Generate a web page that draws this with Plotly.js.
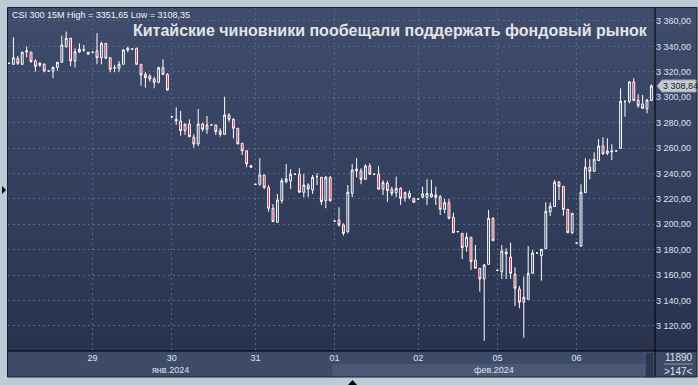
<!DOCTYPE html>
<html>
<head>
<meta charset="utf-8">
<script src="https://cdn.plot.ly/plotly-3.0.1.min.js"></script>
<style>
  html, body { margin: 0; padding: 0; background: #bfcad7; }
  #wrap { position: relative; width: 698px; height: 385px; overflow: hidden; }
  #bg { position: absolute; left: 8px; top: 8px; width: 689px; height: 343px;
        background: linear-gradient(#3f4c6c, #29334f); }
  #chart { position: absolute; left: 0; top: 0; width: 698px; height: 385px; }
</style>
</head>
<body>
<div id="wrap"><div id="bg"></div><div id="chart"></div></div>
<script>
// CSI 300, 15-minute bars, 26 Jan - 6 Feb 2024
const open = [
  3326.7, 3325.9, 3330.6, 3325.9, 3335.6, 3335.4, 3328.5, 3325.1, 3325.9, 3320.6,
  3320.6, 3323.5, 3327.5, 3339.8, 3346.4, 3328.5, 3335.6, 3337.0, 3335.4,
  3335.4, 3336.4, 3331.1, 3342.4, 3331.1, 3323.2, 3322.8, 3325.9, 3337.2, 3337.9,
  3338.5, 3325.9, 3318.0, 3316.7, 3314.3, 3311.7, 3323.2, 3318.0,
  3284.5, 3282.6, 3281.3, 3273.7, 3278.9, 3268.5, 3263.2, 3278.9, 3274.8, 3278.2,
  3278.2, 3273.4, 3270.8, 3286.0, 3282.6, 3275.6, 3263.7, 3257.9, 3246.1,
  3231.5, 3231.5, 3238.8, 3229.1, 3212.6, 3201.6, 3218.6, 3233.5, 3234.3, 3239.4,
  3239.4, 3225.2, 3230.9, 3227.0, 3237.5, 3237.0, 3218.6, 3236.7,
  3202.6, 3203.4, 3199.5, 3194.2, 3224.4, 3243.5, 3242.0, 3235.4, 3245.9, 3239.4,
  3239.4, 3227.6, 3232.3, 3227.6, 3224.9, 3228.3, 3220.5, 3224.4, 3220.5,
  3219.9, 3221.3, 3221.3, 3221.5, 3223.1, 3221.7, 3211.8, 3217.0, 3205.5, 3194.2,
  3192.9, 3182.4, 3189.8, 3171.9, 3165.4, 3157.0, 3168.5, 3204.7,
  3163.8, 3162.7, 3178.2, 3174.1, 3160.7, 3149.1, 3138.7, 3141.0, 3161.5, 3177.4,
  3175.3, 3180.8, 3209.9, 3214.0, 3233.1, 3229.9, 3211.8, 3193.4,
  3185.3, 3182.9, 3224.9, 3244.9, 3241.7, 3250.1, 3261.6, 3255.9, 3257.0, 3257.7,
  3259.8, 3296.8, 3296.8, 3312.0, 3297.6, 3294.7, 3291.0, 3297.3
];
const high = [
  3326.7, 3347.2, 3332.4, 3335.8, 3339.8, 3335.8, 3329.8, 3327.5, 3326.7, 3320.6,
  3324.0, 3327.5, 3348.5, 3351.65, 3346.4, 3338.5, 3342.4, 3341.1, 3335.4,
  3335.4, 3350.5, 3343.7, 3342.4, 3331.1, 3325.4, 3328.5, 3337.9, 3339.8, 3337.9,
  3339.0, 3325.9, 3319.6, 3318.0, 3316.2, 3324.0, 3329.8, 3318.8,
  3284.5, 3292.1, 3289.2, 3278.9, 3282.6, 3270.8, 3290.7, 3279.9, 3285.2, 3278.2,
  3278.2, 3275.6, 3300.4, 3287.4, 3283.4, 3275.6, 3263.7, 3257.9, 3246.1,
  3231.5, 3252.0, 3238.8, 3230.9, 3216.0, 3223.9, 3236.2, 3247.5, 3243.3, 3239.4,
  3244.1, 3239.6, 3232.3, 3238.8, 3240.1, 3237.0, 3238.0, 3238.0,
  3202.6, 3213.4, 3200.8, 3230.9, 3247.5, 3252.0, 3244.1, 3247.2, 3248.0, 3239.4,
  3245.9, 3234.9, 3234.3, 3229.6, 3237.5, 3229.1, 3225.7, 3226.5, 3220.5,
  3219.9, 3229.6, 3235.4, 3235.0, 3229.6, 3223.1, 3219.9, 3219.9, 3209.2, 3194.2,
  3192.9, 3193.4, 3189.8, 3183.7, 3165.4, 3168.8, 3211.3, 3205.5,
  3163.8, 3183.7, 3181.1, 3185.5, 3166.2, 3151.5, 3158.8, 3182.9, 3179.8, 3177.4,
  3180.3, 3217.3, 3217.3, 3234.9, 3234.1, 3229.9, 3211.8, 3208.7,
  3185.3, 3231.5, 3252.0, 3251.2, 3256.7, 3267.1, 3268.5, 3267.7, 3263.0, 3257.7,
  3307.0, 3297.0, 3312.5, 3314.9, 3302.3, 3301.8, 3298.6, 3310.2
];
const low = [
  3326.7, 3325.4, 3325.4, 3325.4, 3331.4, 3327.2, 3320.1, 3324.0, 3319.6, 3320.6,
  3314.9, 3320.9, 3327.5, 3339.0, 3324.5, 3323.2, 3334.8, 3335.6, 3333.8,
  3335.4, 3325.9, 3325.9, 3330.6, 3319.6, 3319.6, 3320.1, 3325.9, 3335.4, 3337.9,
  3325.9, 3309.1, 3307.5, 3312.2, 3307.0, 3310.9, 3317.5, 3305.1,
  3284.5, 3278.2, 3269.7, 3270.3, 3268.9, 3260.3, 3261.6, 3272.9, 3271.1, 3278.2,
  3270.3, 3268.9, 3270.8, 3280.7, 3267.7, 3263.2, 3254.5, 3244.9, 3244.9,
  3231.5, 3230.4, 3227.6, 3209.9, 3202.1, 3201.6, 3216.5, 3232.3, 3227.8, 3239.4,
  3225.2, 3221.3, 3221.3, 3223.9, 3230.9, 3215.2, 3212.6, 3217.8,
  3202.6, 3198.1, 3191.1, 3192.9, 3221.3, 3237.0, 3231.5, 3235.4, 3238.8, 3239.4,
  3227.6, 3223.1, 3217.8, 3222.3, 3221.3, 3215.2, 3217.8, 3219.7, 3217.3,
  3219.9, 3220.5, 3215.2, 3221.0, 3215.2, 3207.3, 3208.7, 3203.9, 3193.4, 3194.2,
  3172.7, 3178.5, 3164.1, 3165.4, 3147.0, 3108.35, 3168.5, 3187.1,
  3163.8, 3157.0, 3157.0, 3157.0, 3135.7, 3133.9, 3110.8, 3141.0, 3161.0, 3177.4,
  3155.6, 3180.8, 3206.5, 3214.0, 3219.1, 3206.8, 3193.4, 3192.2,
  3185.3, 3182.4, 3224.9, 3235.4, 3241.7, 3250.1, 3255.3, 3254.5, 3250.6, 3257.7,
  3259.8, 3284.7, 3295.2, 3297.3, 3291.8, 3291.3, 3287.4, 3297.3
];
const close = [
  3326.7, 3331.1, 3326.7, 3335.4, 3336.4, 3328.0, 3324.3, 3326.7, 3320.6, 3320.6,
  3323.5, 3327.5, 3341.1, 3346.4, 3328.5, 3335.8, 3337.7, 3337.5, 3333.8,
  3335.4, 3331.1, 3342.4, 3330.6, 3322.0, 3323.2, 3325.9, 3337.2, 3338.5, 3337.9,
  3325.9, 3317.5, 3315.4, 3314.3, 3311.7, 3323.2, 3318.0, 3305.7,
  3284.5, 3281.5, 3273.7, 3278.9, 3268.9, 3263.2, 3278.9, 3274.8, 3278.2, 3278.2,
  3272.9, 3270.8, 3286.0, 3282.6, 3275.6, 3263.2, 3257.9, 3247.5, 3244.9,
  3231.5, 3238.8, 3229.1, 3212.6, 3202.1, 3219.1, 3234.3, 3235.7, 3239.4, 3239.4,
  3225.2, 3230.9, 3227.8, 3237.0, 3237.5, 3217.8, 3237.0, 3218.6,
  3202.6, 3199.5, 3192.9, 3225.2, 3242.7, 3242.0, 3235.4, 3245.9, 3239.4, 3239.4,
  3227.6, 3232.8, 3226.5, 3224.4, 3228.3, 3220.5, 3224.9, 3221.3, 3217.3,
  3219.9, 3223.9, 3224.4, 3223.9, 3221.3, 3211.8, 3217.0, 3204.7, 3193.4, 3194.2,
  3181.6, 3189.8, 3170.6, 3165.4, 3157.0, 3168.0, 3204.7, 3187.1,
  3163.8, 3179.0, 3176.7, 3161.5, 3149.7, 3138.7, 3142.6, 3161.5, 3177.4, 3177.4,
  3180.3, 3210.2, 3214.2, 3233.1, 3229.9, 3211.8, 3193.4, 3208.7,
  3185.3, 3225.2, 3244.9, 3241.7, 3251.2, 3261.6, 3255.3, 3257.7, 3257.7, 3257.7,
  3296.8, 3296.8, 3312.0, 3297.3, 3293.3, 3291.3, 3297.8, 3308.84
];
// first bar of each trading day and its date label
const dayStart  = [19, 37, 56, 74, 93, 111, 129];
const dayLabels = ['29', '30', '31', '01', '02', '05', '06'];
const monthLabels = ['янв.2024', 'фев.2024'];
const febFirstDay = 3;               // index in dayStart where February begins
const totalCount = '11890';
const title = 'Китайские чиновники пообещали поддержать фондовый рынок';

const bars = open.map((_, i) => i);
const n = bars.length;

// frame geometry (pixels)
const W = 698, H = 385, L = 8, R = 655, T = 8, B = 351, BOT = 377, RIGHT = 697;
const xr = [-0.23, n - 1 + 0.82];
const yr = [3100.3, 3370.2];
const px = p => (p - L) / (R - L);          // pixel -> paper x
const py = p => (B - p) / (B - T);          // pixel -> paper y
const dx = v => (v - xr[0]) / (xr[1] - xr[0]); // data x -> paper x
const dy = v => (v - yr[0]) / (yr[1] - yr[0]); // data y -> paper y

const plain = v => v.toFixed(2).replace('.', ',');
const spaced = v => {
  const [a, b] = v.toFixed(2).split('.');
  return a.replace(/\B(?=(\d{3})+(?!\d))/g, ' ') + ',' + b;
};

const hi = Math.max(...high), lo = Math.min(...low);
const last = close[n - 1];
const febX = dayStart[febFirstDay] - 0.5;
const font = 'Liberation Sans, Arial, sans-serif';
const txt = '#dde3ee';

const trace = {
  type: 'candlestick', x: bars, open, high, low, close,
  increasing: { line: { color: '#ffffff', width: 1 }, fillcolor: 'rgba(0,0,0,0)' },
  decreasing: { line: { color: '#ffffff', width: 1 }, fillcolor: '#dc1436' },
  whiskerwidth: 0, hoverinfo: 'skip', showlegend: false
};

const lastY = dy(last);
const shapes = [
  // axis band under the plot
  { type: 'rect', xref: 'paper', yref: 'paper', x0: px(L), x1: px(RIGHT), y0: py(BOT), y1: py(B),
    fillcolor: '#3d4a68', line: { width: 0 }, layer: 'below' },
  // February half of the month row
  { type: 'rect', xref: 'paper', yref: 'paper', x0: dx(febX), x1: px(645), y0: py(BOT), y1: py(364),
    fillcolor: '#4b5875', line: { width: 0 }, layer: 'below' },
  // scroll handle
  { type: 'rect', xref: 'paper', yref: 'paper', x0: px(645), x1: px(654), y0: py(BOT), y1: py(B + 1),
    fillcolor: '#2c3753', line: { color: '#56627e', width: 1 }, layer: 'below' },
  // frame lines
  { type: 'line', xref: 'paper', yref: 'paper', x0: px(L), x1: px(RIGHT), y0: py(B), y1: py(B),
    line: { color: '#000000', width: 1 } },
  { type: 'line', xref: 'paper', yref: 'paper', x0: px(R), x1: px(R), y0: py(T), y1: py(BOT),
    line: { color: '#000000', width: 1 } },
  { type: 'rect', xref: 'paper', yref: 'paper', x0: px(L - 0.5), x1: px(RIGHT), y0: py(BOT), y1: py(T - 0.5),
    line: { color: '#1a2030', width: 1 } },
  // separator between the counters
  { type: 'line', xref: 'paper', yref: 'paper', x0: px(664), x1: px(693), y0: py(364), y1: py(364),
    line: { color: '#8f9ab0', width: 1 } },
  // last price marker
  { type: 'path', xref: 'paper', yref: 'paper',
    path: `M ${px(657)} ${lastY} L ${px(662)} ${lastY + 6 / 343} L ${px(696)} ${lastY + 6 / 343} ` +
          `L ${px(696)} ${lastY - 6 / 343} L ${px(662)} ${lastY - 6 / 343} Z`,
    fillcolor: '#c6cbd3', line: { color: '#9aa2b0', width: 1 } },
  // small arrows on the outer frame
  { type: 'path', xref: 'paper', yref: 'paper',
    path: `M ${px(2)} ${py(186)} L ${px(6)} ${py(190)} L ${px(2)} ${py(194)} Z`,
    fillcolor: '#000000', line: { width: 0 } },
  { type: 'path', xref: 'paper', yref: 'paper',
    path: `M ${px(348)} ${py(385)} L ${px(352.5)} ${py(380)} L ${px(357)} ${py(385)} Z`,
    fillcolor: '#000000', line: { width: 0 } }
];

const annotations = [
  { xref: 'paper', yref: 'paper', x: px(10), y: py(15), xanchor: 'left', yanchor: 'middle',
    text: `CSI 300 15M High = ${plain(hi)} Low = ${plain(lo)}`, showarrow: false,
    font: { family: font, size: 9, color: '#f4f4f4' } },
  { xref: 'paper', yref: 'paper', x: px(650), y: py(30), xanchor: 'right', yanchor: 'middle',
    text: '<b>' + title + '</b>', showarrow: false,
    font: { family: font, size: 16, color: '#e4e4e6' } },
  { xref: 'x', yref: 'paper', x: (xr[0] + febX) / 2, y: py(370), xanchor: 'center', yanchor: 'middle',
    text: monthLabels[0], showarrow: false, font: { family: font, size: 9, color: txt } },
  { xref: 'x', yref: 'paper', x: (febX + xr[1]) / 2, y: py(370), xanchor: 'center', yanchor: 'middle',
    text: monthLabels[1], showarrow: false, font: { family: font, size: 9, color: txt } },
  { xref: 'paper', yref: 'paper', x: px(678.5), y: py(357), xanchor: 'center', yanchor: 'middle',
    text: totalCount, showarrow: false, font: { family: font, size: 10, color: txt } },
  { xref: 'paper', yref: 'paper', x: px(678.5), y: py(371), xanchor: 'center', yanchor: 'middle',
    text: '&gt;' + n + '&lt;', showarrow: false, font: { family: font, size: 10, color: txt } },
  { xref: 'paper', yref: 'paper', x: px(661), y: lastY, xanchor: 'left', yanchor: 'middle',
    text: spaced(last), showarrow: false, font: { family: font, size: 9, color: '#1a1a1a' } }
];

const grid = '#59668a';
const layout = {
  width: W, height: H,
  margin: { l: L, r: W - R, t: T, b: H - B, pad: 0 },
  paper_bgcolor: 'rgba(0,0,0,0)', plot_bgcolor: 'rgba(0,0,0,0)',
  separators: ', ',
  boxgap: 0.4,
  font: { family: font, size: 9, color: txt },
  xaxis: {
    range: xr, rangeslider: { visible: false }, fixedrange: true,
    tickmode: 'array', tickvals: dayStart, ticktext: dayLabels,
    showgrid: true, gridcolor: grid, griddash: '2px,3px', gridwidth: 1,
    zeroline: false, showline: false, ticks: '',
    tickfont: { family: font, size: 9, color: txt }
  },
  yaxis: {
    range: yr, side: 'right', fixedrange: true,
    tickmode: 'linear', tick0: 3120, dtick: 20, tickformat: ',.2f',
    showgrid: true, gridcolor: grid, griddash: '2px,3px', gridwidth: 1,
    zeroline: false, showline: false, ticks: '',
    tickfont: { family: font, size: 9, color: txt }
  },
  shapes, annotations
};

Plotly.newPlot('chart', [trace], layout, { displayModeBar: false, staticPlot: true });
</script>
</body>
</html>
